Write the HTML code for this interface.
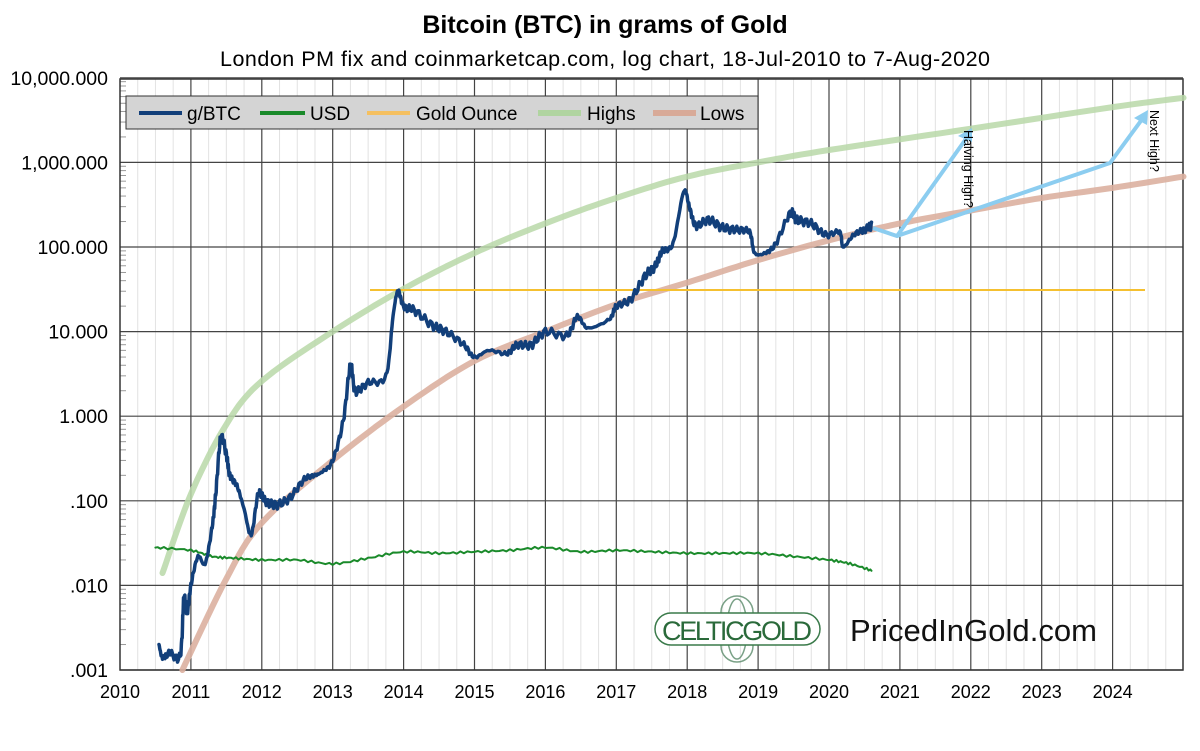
<!DOCTYPE html>
<html><head><meta charset="utf-8"><style>
html,body{margin:0;padding:0;background:#fff;}
text{font-family:"Liberation Sans",sans-serif;}
</style></head><body>
<svg id="s" width="1200" height="746" xmlns="http://www.w3.org/2000/svg">
<rect width="1200" height="746" fill="#fff"/>
<text x="605" y="33" font-size="25" font-weight="bold" text-anchor="middle">Bitcoin (BTC) in grams of Gold</text>
<text x="605" y="66" font-size="21.5" text-anchor="middle" textLength="770">London PM fix and coinmarketcap.com, log chart, 18-Jul-2010 to 7-Aug-2020</text>
<g id="grid"></g>
<g id="series"></g>
<rect x="126" y="96" width="632" height="33" fill="#d4d4d4" stroke="#333" stroke-width="1"/>
<line x1="139" y1="113" x2="182" y2="113" stroke="#123f7a" stroke-width="4"/><text x="187" y="120" font-size="19">g/BTC</text>
<line x1="260" y1="113" x2="305" y2="113" stroke="#1a8a2a" stroke-width="4"/><text x="310" y="120" font-size="19">USD</text>
<line x1="367" y1="113" x2="410" y2="113" stroke="#f5c060" stroke-width="4"/><text x="416" y="120" font-size="19">Gold Ounce</text>
<line x1="538" y1="113" x2="581" y2="113" stroke="#b0d4a0" stroke-width="6"/><text x="587" y="120" font-size="19">Highs</text>
<line x1="653" y1="113" x2="696" y2="113" stroke="#d8aa98" stroke-width="6"/><text x="700" y="120" font-size="19">Lows</text>
<g fill="none" stroke="#5a8a6a" stroke-width="1.5" opacity="0.8">
<circle cx="737" cy="612" r="16"/><circle cx="737" cy="646" r="16"/>
<ellipse cx="737" cy="629" rx="10" ry="30"/>
</g>
<rect x="655" y="613" width="165" height="32" rx="16" fill="#fff" stroke="#3a7a4a" stroke-width="1.5"/>
<text x="737" y="640" font-size="27" font-family="Liberation Serif,serif" text-anchor="middle" fill="#2a6a3a" textLength="150">CELTICGOLD</text>
<text x="850" y="641" font-size="31" fill="#111" textLength="247">PricedInGold.com</text>
<text transform="translate(964,130) rotate(90)" font-size="12.5">Halving High?</text>
<text transform="translate(1150,110) rotate(90)" font-size="12.5">Next High?</text>
</svg>
<script>
const NS="http://www.w3.org/2000/svg";
const X=y=>120+(y-2010)*70.9;
const Y=v=>670-(Math.log10(v)+3)*84.6;
const g=document.getElementById('grid'),se=document.getElementById('series');
function el(p,t,a){const e=document.createElementNS(NS,t);for(const k in a)e.setAttribute(k,a[k]);p.appendChild(e);return e;}
for(let q=0;q<60;q++){const x=X(2010+q/4);if(q%4)el(g,'line',{x1:x,y1:79,x2:x,y2:670,stroke:'#e2e2e2','stroke-width':1});}
for(let yr=2011;yr<=2024;yr++){const x=X(yr);el(g,'line',{x1:x,y1:79,x2:x,y2:670,stroke:'#444','stroke-width':1.2});}
const labs=['.001','.010','.100','1.000','10.000','100.000','1,000.000','10,000.000'];
for(let i=0;i<8;i++){const y=Y(Math.pow(10,i-3));el(g,'line',{x1:120,y1:y,x2:1183,y2:y,stroke:'#444','stroke-width':1.2});
 const t=el(g,'text',{x:108,y:y+7,'font-size':19.5,'text-anchor':'end'});t.textContent=labs[i];
 if(i<7)for(let m=2;m<10;m++){const yy=Y(m*Math.pow(10,i-3));el(g,'line',{x1:120,y1:yy,x2:126,y2:yy,stroke:'#999'});}}
el(g,'rect',{x:120,y:79,width:1063,height:591,fill:'none',stroke:'#333','stroke-width':1.5});
for(let yr=2010;yr<=2024;yr++){const t=el(g,'text',{x:X(yr),y:698,'font-size':18,'text-anchor':'middle'});t.textContent=yr;}
function path(pts,attrs){let d=pts.map((p,i)=>(i?'L':'M')+X(p[0]).toFixed(1)+','+Y(p[1]).toFixed(1)).join('');attrs.d=d;attrs.fill='none';attrs['stroke-linejoin']='round';attrs['stroke-linecap']='round';return el(se,'path',attrs);}
function smooth(pts){const out=[];for(let i=0;i<pts.length-1;i++){for(let k=0;k<10;k++){const t=k/10;const a=pts[Math.max(0,i-1)],b=pts[i],c=pts[i+1],d=pts[Math.min(pts.length-1,i+2)];
 const f=(p0,p1,p2,p3)=>0.5*((2*p1)+(-p0+p2)*t+(2*p0-5*p1+4*p2-p3)*t*t+(-p0+3*p1-3*p2+p3)*t*t*t);
 out.push([f(a[0],b[0],c[0],d[0]),Math.pow(10,f(Math.log10(a[1]),Math.log10(b[1]),Math.log10(c[1]),Math.log10(d[1])))]);}}out.push(pts[pts.length-1]);return out;}
path(smooth([[2010.6,.014],[2011,.12],[2011.5,.8],[2012,2.6],[2013,10],[2014,32],[2015,85],[2016,190],[2017,380],[2018,680],[2019,1000],[2020,1400],[2022,2500],[2024,4500],[2025,5800]]),{stroke:'#b8d8a8','stroke-width':6,opacity:.85});
path(smooth([[2010.88,.001],[2011.5,.012],[2012,.055],[2013,.3],[2014,1.3],[2015,4.5],[2016,10],[2017,21],[2018,38],[2019,70],[2020,120],[2021,190],[2022,270],[2023,380],[2024,500],[2025,680]]),{stroke:'#dcb0a0','stroke-width':6,opacity:.9});
el(se,'line',{x1:370,y1:Y(31),x2:1145,y2:Y(31),stroke:'#f5c030','stroke-width':2});
let usd=[[2010.5,.028],[2011,.026],[2011.3,.022],[2011.6,.021],[2012,.02],[2012.5,.02],[2013,.018],[2013.5,.021],[2014,.025],[2014.5,.024],[2015,.025],[2015.5,.026],[2016,.028],[2016.5,.025],[2017,.026],[2017.5,.025],[2018,.024],[2018.5,.024],[2019,.024],[2019.5,.022],[2020,.02],[2020.3,.018],[2020.6,.015]];
let s1=smooth(usd).map((p,i)=>[p[0],p[1]*(1+0.03*Math.sin(i*2.7))]);
path(s1,{stroke:'#1a8a2a','stroke-width':2});
let btc=[[2010.55,.002],[2010.6,.0014],[2010.7,.0016],[2010.85,.0015],[2010.9,.007],[2010.95,.005],[2011.0,.01],[2011.1,.022],[2011.2,.018],[2011.3,.05],[2011.35,.12],[2011.42,.55],[2011.5,.35],[2011.55,.2],[2011.65,.15],[2011.75,.08],[2011.85,.04],[2011.95,.12],[2012.05,.1],[2012.2,.09],[2012.4,.11],[2012.6,.18],[2012.75,.2],[2012.85,.22],[2013.0,.3],[2013.15,.9],[2013.25,4],[2013.32,2],[2013.5,2.5],[2013.75,3],[2013.85,15],[2013.92,30],[2014.0,20],[2014.15,18],[2014.4,12],[2014.6,10],[2014.85,7],[2015.0,5],[2015.2,6],[2015.45,5.5],[2015.6,7],[2015.8,7],[2016.0,10],[2016.3,9],[2016.45,15],[2016.6,11],[2016.9,14],[2017.0,20],[2017.2,24],[2017.4,45],[2017.55,60],[2017.65,90],[2017.8,110],[2017.95,450],[2018.03,300],[2018.12,180],[2018.3,210],[2018.5,170],[2018.7,160],[2018.88,150],[2018.95,85],[2019.1,85],[2019.25,110],[2019.45,250],[2019.55,210],[2019.75,190],[2019.95,140],[2020.15,150],[2020.2,100],[2020.35,140],[2020.5,160],[2020.6,180]];
let s2=smooth(btc).map((p,i)=>[p[0],p[1]*(1+0.12*Math.sin(i*3.1)*Math.cos(i*1.3))]);
path(s2,{stroke:'#123f7a','stroke-width':3.5});
const ab='#8ccdf0';
el(se,'polyline',{points:'873,228 897,236 968,136',fill:'none',stroke:ab,'stroke-width':4,'stroke-linejoin':'round'});
el(se,'polygon',{points:'972,128 958,136 972,142',fill:ab});
el(se,'polyline',{points:'897,236 1110,163 1143,118',fill:'none',stroke:ab,'stroke-width':4,'stroke-linejoin':'round'});
el(se,'polygon',{points:'1148,110 1134,118 1147,125',fill:ab});
</script>
</body></html>
